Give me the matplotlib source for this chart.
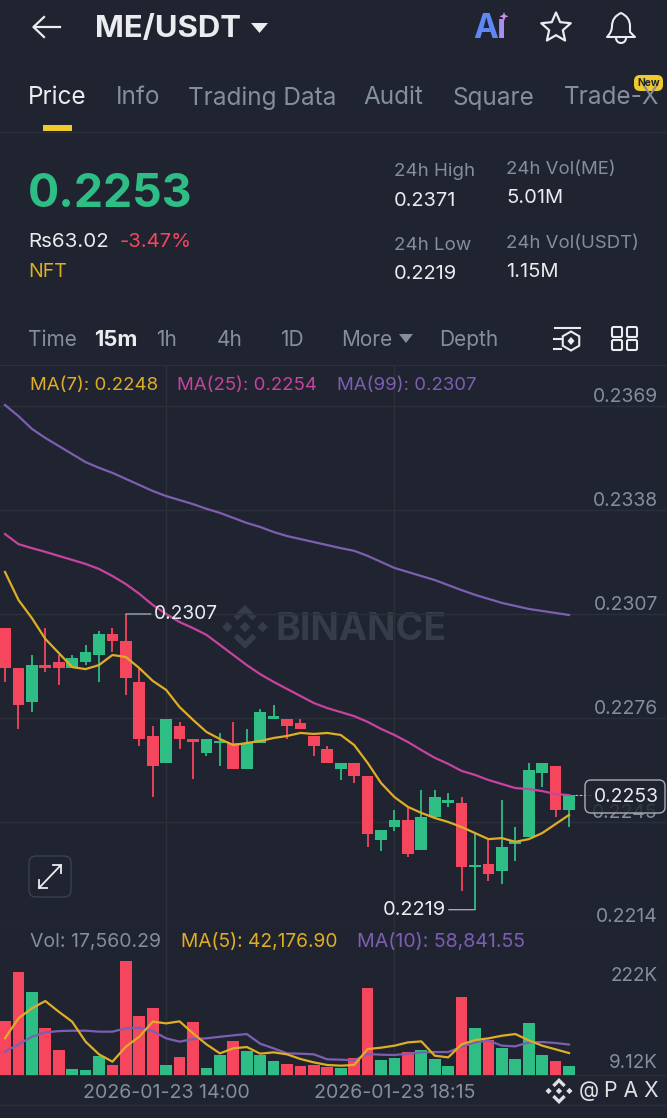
import numpy as np
import matplotlib
matplotlib.use("Agg")
import matplotlib.pyplot as plt
import matplotlib.patches as mpatches
from matplotlib.path import Path

# candles
opens = [.23029, .22908, .22809, .22918, .22928, .22908, .22928, .22949, .23009, .22989, .22868,
         .22708, .22628, .22738, .22698, .22657, .22687, .22687, .22608, .22687, .22758, .22758,
         .22747, .22707, .22667, .22608, .22628, .22587, .22396, .22436, .22456, .22367, .22466,
         .22507, .22507, .22316, .22326, .22306, .22387, .22406, .22598, .22617, .22487]
closes = [.22908, .22798, .22918, .22908, .22908, .22938, .22958, .23009, .22989, .22879, .22698,
          .22618, .22758, .22698, .22688, .22698, .22692, .22608, .22687, .22777, .22767, .22738,
          .22727, .22677, .22628, .22628, .22587, .22416, .22426, .22456, .22356, .22466, .22526,
          .22516, .22316, .22321, .22296, .22376, .22394, .22607, .22628, .22487, .2253]
highs = [.23029, .22908, .22948, .23029, .22948, .22948, .22978, .23018, .23029, .2307, .22908,
         .22738, .22758, .22748, .22698, .22698, .22717, .22748, .22728, .22787, .22798, .22758,
         .22757, .22707, .22677, .22628, .22628, .22587, .22426, .22487, .22497, .22546, .22546,
         .22536, .22526, .22416, .22396, .22516, .22436, .22628, .22628, .22617, .2253]
lows = [.22869, .22728, .22778, .22898, .22859, .22908, .22918, .22869, .22958, .22828, .22678,
        .22526, .22628, .22667, .22578, .22647, .22618, .22608, .22608, .22687, .22758, .22698,
        .22727, .22647, .22628, .22576, .22566, .22376, .22366, .22425, .22346, .22367, .22466,
        .22497, .22246, .2219, .22275, .22265, .22336, .22406, .22556, .22466, .22436]

ma7 = [.23195, .23112, .23058, .22996, .22954, .22912, .22906, .22918, .22948, .22942, .22909,
       .22871, .22844, .22793, .22755, .22719, .22698, .2268, .22686, .22692, .22701, .22707,
       .22716, .22713, .22716, .2271, .2268, .22627, .22567, .22525, .22496, .22478, .22463,
       .22451, .22436, .22418, .224, .22403, .22392, .224, .22418, .22445, .22472]
ma25 = [.23308, .23278, .23266, .23255, .23243, .23231, .23219, .23204, .23183, .23159, .2313,
        .23097, .2307, .23046, .23028, .23008, .22978, .22948, .22918, .22891, .22868, .22847,
        .22826, .22805, .2279, .22778, .22766, .22749, .22728, .2271, .22689, .22665, .22642,
        .22624, .22603, .22591, .22576, .22564, .22552, .22549, .22543, .22534, .22531]
ma99 = [.23692, .23659, .23621, .23594, .2357, .23546, .23522, .23505, .2349, .23472, .23454,
        .23436, .23421, .23409, .23397, .23383, .23371, .23356, .23341, .23329, .23314, .23302,
        .23293, .23284, .23275, .23266, .23258, .23243, .23225, .23207, .23195, .23183, .23171,
        .23156, .23141, .23127, .23115, .23103, .23094, .23085, .23079, .23073, .23067]

# volume in thousands
vol = [104.6, 200.9, 160.5, 90.3, 47.5, 11, 9.12, 35.8, 18.9, 222, 113.8, 130.7, 18.2, 34.5, 103.4,
       12.4, 39, 65, 46.8, 39, 26.7, 20.2, 16.9, 18.2, 15.6, 13.7, 32.5, 169, 28, 31.9, 44.9, 48.1,
       29.9, 16.3, 151.5, 90.4, 67.6, 52, 29.9, 100.1, 37.7, 26, 17.56]
vol_ma5 = [70.9, 109.9, 129.4, 143.7, 122.9, 103.4, 64.4, 39.7, 25.4, 54.6, 74.1, 103.4, 100.1, 104,
           80.6, 59.2, 41.6, 51.4, 54, 41, 43.6, 39.7, 30.6, 24, 18.9, 17.6, 18.9, 50, 52.7, 56.6,
           63, 65, 37, 33.8, 59, 67.6, 70.9, 76, 79.3, 67, 56.6, 49.4, 42.18]
vol_ma10 = [44.9, 59, 74, 82.6, 85, 85.8, 85.8, 83.9, 83.9, 90.4, 91.7, 85, 70.9, 64.4, 69.6, 70.9,
            74, 76.7, 79.3, 60.5, 51.4, 41.6, 41, 39.7, 29.9, 29.3, 28, 40.3, 39, 38.4, 41, 43.6,
            44.2, 44.2, 54.6, 63, 66.3, 56.6, 55.3, 63, 63.7, 61.8, 58.84]

price_ticks = [0.2369, 0.2338, 0.2307, 0.2276, 0.2245, 0.2214]
vol_ticks = [222, 9.12]
vol_tick_labels = ["222K", "9.12K"]
time_ticks = [12, 29]
time_labels = ["2026-01-23 14:00", "2026-01-23 18:15"]

BG = "#1f2430"
GRID = "#2b303b"
GREEN = "#2ebd85"
RED = "#f6465d"
GREY = "#848e9c"
WHITE = "#eaecef"
GOLD = "#dfae25"
PINK = "#c8439f"
PURPLE = "#7d5fb2"

plt.rcParams["font.family"] = ["Inter", "DejaVu Sans"]

W, H = 667, 1118
fig = plt.figure(figsize=(W / 100, H / 100), dpi=100, facecolor=BG)


def pixel_axes(zorder):
    a = fig.add_axes([0, 0, 1, 1], zorder=zorder)
    a.set_xlim(0, W)
    a.set_ylim(H, 0)
    a.axis("off")
    return a


def panel(top, bottom):
    a = fig.add_axes([0, 1 - bottom / H, 1, (bottom - top) / H], zorder=2)
    a.patch.set_alpha(0)
    a.set_xlim(-5 / STEP, (W - 5) / STEP)
    return a


def txt(a, x, y, s, size, color, weight="normal", ha="left", **kw):
    # va=center sits a little high with this font
    return a.text(x, y + 4, s, fontsize=size, color=color, fontweight=weight, ha=ha, va="center", **kw)


def diamond_logo(a, cx, cy, r, color):
    # binance mark: four small squares and a centre one, with corner chevrons
    s = r * 0.24
    for dx, dy in [(0, 0), (-r * 0.8, 0), (r * 0.8, 0)]:
        a.add_patch(mpatches.Polygon([(cx + dx - s, cy + dy), (cx + dx, cy + dy - s),
                                      (cx + dx + s, cy + dy), (cx + dx, cy + dy + s)],
                                     color=color, lw=0))
    for sign in (-1, 1):
        a.add_patch(mpatches.Polygon([(cx, cy + sign * r), (cx + r * 0.52, cy + sign * r * 0.48),
                                      (cx + r * 0.34, cy + sign * r * 0.3), (cx, cy + sign * r * 0.64),
                                      (cx - r * 0.34, cy + sign * r * 0.3), (cx - r * 0.52, cy + sign * r * 0.48)],
                                     color=color, lw=0))


STEP = 13.43
x = np.arange(len(opens))
opens, closes, highs, lows = map(np.array, (opens, closes, highs, lows))
is_up = closes >= opens
colors = [GREEN if u else RED for u in is_up]

back = pixel_axes(0)
ui = pixel_axes(5)

# watermark goes under the candles
diamond_logo(back, 245, 627, 22, "#363c48")
txt(back, 275, 626, "BINANCE", 27, "#363c48", "bold")

# price panel
ax = panel(365, 926.5)
ax.set_ylim(0.2214, 0.23811)
ax.set_yticks(price_ticks)
ax.set_xticks(time_ticks)
ax.tick_params(length=0, labelleft=False, labelbottom=False)
ax.grid(True, color=GRID, lw=1)
ax.set_axisbelow(True)
for sp in ("left", "right", "bottom"):
    ax.spines[sp].set_visible(False)
ax.spines["top"].set_color(GRID)

ax.vlines(x, lows, highs, colors=colors, lw=1.3, zorder=2)
ax.bar(x, np.maximum(np.abs(closes - opens), 0.00006), bottom=np.minimum(opens, closes),
       width=0.87, color=colors, zorder=3)
ax.plot(x, ma99, color=PURPLE, lw=1.6, zorder=4)
ax.plot(x, ma25, color=PINK, lw=1.6, zorder=4)
ax.plot(x, ma7, color=GOLD, lw=1.6, zorder=4)

for t in price_ticks:
    ax.annotate(f"{t:.4f}", xy=(1, t), xycoords=("axes fraction", "data"), xytext=(-6.5, 6.5),
                textcoords="offset points", ha="right", va="center", fontsize=13.9, color=GREY)

# high / low markers
i_hi = int(np.argmax(highs))
i_lo = int(np.argmin(lows))
ax.annotate(f"{highs[i_hi]:.4f}", xy=(i_hi, highs[i_hi]), xytext=(20, 0), textcoords="offset points",
            ha="left", va="center", fontsize=13.8, color=WHITE, zorder=6,
            arrowprops=dict(arrowstyle="-", color="#aeb4bc", lw=0.9, shrinkA=0, shrinkB=0))
ax.annotate(f"{lows[i_lo]:.4f}", xy=(i_lo, lows[i_lo]), xytext=(-21, 0), textcoords="offset points",
            ha="right", va="center", fontsize=14.4, color=WHITE, zorder=6,
            arrowprops=dict(arrowstyle="-", color="#aeb4bc", lw=0.9, shrinkA=0, shrinkB=0))

# last price tag
ax.annotate("", xy=(x[-1] + 0.5, closes[-1]), xytext=(11, 0), textcoords="offset points",
            arrowprops=dict(arrowstyle="-", color="#aeb4bc", lw=0.8, ls=(0, (2, 2)), shrinkA=0, shrinkB=0))
ui.add_patch(mpatches.FancyBboxPatch((589, 784), 72, 25, boxstyle="round,pad=4,rounding_size=6",
                                     fc=BG, alpha=0.82, ec="none"))
ui.add_patch(mpatches.FancyBboxPatch((589, 784), 72, 25, boxstyle="round,pad=4,rounding_size=6",
                                     fc="none", ec="#a9aeb6", lw=1))
txt(ui, 626, 793, f"{closes[-1]:.4f}", 13.9, WHITE, ha="center")

# volume panel
vx = panel(926.5, 1074.7)
vx.set_ylim(0, 289)
vx.set_xticks(time_ticks)
vx.set_xticklabels(time_labels, fontsize=14.1, color=GREY)
vx.set_yticks([])
vx.tick_params(length=0, pad=7)
vx.grid(True, axis="x", color=GRID, lw=1)
vx.set_axisbelow(True)
for sp in ("left", "right", "top"):
    vx.spines[sp].set_visible(False)
vx.spines["bottom"].set_color(GRID)
vx.bar(x, vol, width=0.87, color=colors, zorder=3)
vx.plot(x, vol_ma10, color=PURPLE, lw=1.6, zorder=4)
vx.plot(x, vol_ma5, color=GOLD, lw=1.6, zorder=5)
for t, lab, off in zip(vol_ticks, vol_tick_labels, (-11, 5)):
    vx.annotate(lab, xy=(1, t), xycoords=("axes fraction", "data"), xytext=(-6.5, off),
                textcoords="offset points", ha="right", va="center", fontsize=13.6, color=GREY)

# header
ui.plot([34, 60], [27, 27], color=WHITE, lw=1.6)
ui.plot([44, 33.5, 44], [17, 27, 37], color=WHITE, lw=1.6)
txt(ui, 95, 25, "ME/USDT", 22.4, WHITE, "bold")
ui.add_patch(mpatches.Polygon([(251, 23), (268, 23), (259.5, 33)], color=WHITE, lw=0))
txt(ui, 473, 25, "A", 24, "#5f88f5", "bold")
txt(ui, 497, 25, "ı", 24, "#a98cf2", "bold")
ui.add_patch(mpatches.Polygon([(504, 12), (505.2, 15), (508.5, 16.3), (505.2, 17.6), (504, 21),
                               (502.8, 17.6), (499.5, 16.3), (502.8, 15)], color="#cf8cf0", lw=0))
ang = np.pi / 2 + np.arange(10) * np.pi / 5
rad = np.where(np.arange(10) % 2 == 0, 15.5, 7.2)
ui.add_patch(mpatches.Polygon(np.c_[556 + rad * np.cos(ang), 28 - rad * np.sin(ang)], fc="none",
                              ec=WHITE, lw=1.6, joinstyle="round"))
bell = Path([(607, 37), (612, 32), (612, 26), (612, 17), (621, 13), (621, 13), (621, 13), (630, 17),
             (630, 26), (630, 32), (635, 37), (607, 37)],
            [Path.MOVETO, Path.CURVE3, Path.CURVE3, Path.CURVE3, Path.CURVE3, Path.LINETO, Path.LINETO,
             Path.CURVE3, Path.CURVE3, Path.LINETO, Path.LINETO, Path.CLOSEPOLY])
ui.add_patch(mpatches.PathPatch(bell, fc="none", ec=WHITE, lw=1.5, joinstyle="round"))
ui.add_patch(mpatches.Arc((621, 38), 10, 10, theta1=0, theta2=180, ec=WHITE, lw=1.5))

# tabs
for tx, s, col in [(28, "Price", WHITE), (116, "Info", GREY), (188, "Trading Data", GREY), (363, "Audit", GREY),
                   (452, "Square", GREY), (564, "Trade-X", GREY)]:
    txt(ui, tx, 94, s, 17.5, col)
ui.add_patch(mpatches.Rectangle((43, 125), 29, 6, color="#f0c92d", lw=0))
ui.plot([0, W], [131.5, 131.5], color=GRID, lw=1)
ui.add_patch(mpatches.FancyBboxPatch((637, 78), 23, 10, boxstyle="round,pad=3,rounding_size=6", fc="#f0c92d", ec="none"))
txt(ui, 648.5, 79, "New", 7.4, "#1f2430", "bold", ha="center")

# ticker block
txt(ui, 28, 191, "0.2253", 33.4, GREEN, "bold")
txt(ui, 28, 238, "Rs63.02", 14.8, WHITE)
txt(ui, 120, 238, "-3.47%", 14.6, RED)
txt(ui, 28, 268, "NFT", 14, GOLD)
for tx, ty, s, col, sz in [(394, 167, "24h High", GREY, 13.5), (394, 197, "0.2371", WHITE, 14.4),
                           (394, 241, "24h Low", GREY, 13.5), (394, 270, "0.2219", WHITE, 14.4),
                           (506, 166, "24h Vol(ME)", GREY, 13.4), (506, 194, "5.01M", WHITE, 14.5),
                           (506, 239, "24h Vol(USDT)", GREY, 13.4), (506, 268, "1.15M", WHITE, 14.5)]:
    txt(ui, tx, ty, s, sz, col)

# interval toolbar
for tx, s, col, wt, sz in [(28, "Time", GREY, "normal", 15), (94, "15m", WHITE, "bold", 15.8),
                           (156, "1h", GREY, "normal", 15), (217, "4h", GREY, "normal", 15),
                           (280, "1D", GREY, "normal", 15), (341, "More", GREY, "normal", 15),
                           (439, "Depth", GREY, "normal", 15)]:
    txt(ui, tx, 336, s, sz, col, wt)
ui.add_patch(mpatches.Polygon([(399, 334), (413, 334), (406, 343)], color=GREY, lw=0))
ui.plot([555, 580], [328, 328], color=WHITE, lw=1.5)
ui.plot([554, 562], [339, 339], color=WHITE, lw=1.5)
ui.plot([554, 561], [349, 349], color=WHITE, lw=1.5)
hx = np.pi / 6 + np.arange(6) * np.pi / 3
ui.add_patch(mpatches.Polygon(np.c_[571 + 9.5 * np.cos(hx), 341 + 9.5 * np.sin(hx)], fc="none", ec=WHITE, lw=1.5))
ui.add_patch(mpatches.Polygon([(571, 337), (574.5, 341), (571, 345), (567.5, 341)], color=WHITE, lw=0))
for gx in (612, 627):
    for gy in (327, 340):
        ui.add_patch(mpatches.FancyBboxPatch((gx + 1, gy + 1), 8, 8, boxstyle="round,pad=1,rounding_size=1.5",
                                             fc="none", ec=WHITE, lw=1.5))

# indicator legends
txt(ui, 30, 382, "MA(7): 0.2248", 13.45, GOLD)
txt(ui, 177, 382, "MA(25): 0.2254", 13.45, PINK)
txt(ui, 337, 382, "MA(99): 0.2307", 13.45, PURPLE)
txt(ui, 30, 938, "Vol: 17,560.29", 14, GREY)
txt(ui, 181, 938, "MA(5): 42,176.90", 13.8, GOLD)
txt(ui, 357, 938, "MA(10): 58,841.55", 14.1, PURPLE)

# expand button
ui.add_patch(mpatches.FancyBboxPatch((33, 860), 34, 33, boxstyle="round,pad=4,rounding_size=7", fc=BG, ec="#3a404c", lw=1))
ui.plot([39, 61], [888, 865], color=WHITE, lw=1.3)
ui.plot([39, 39, 47], [880, 888, 888], color=WHITE, lw=1.3)
ui.plot([53, 61, 61], [865, 865, 873], color=WHITE, lw=1.3)

# bottom strip
ui.plot([0, W], [1104.5, 1104.5], color=GRID, lw=1)
diamond_logo(ui, 559, 1091, 13, "#dfe1e5")
txt(ui, 579, 1087, "@", 15, "#dfe1e5")
txt(ui, 604, 1087, "P A X", 15.3, "#dfe1e5")

fig.savefig("out.png", dpi=100, facecolor=BG)
